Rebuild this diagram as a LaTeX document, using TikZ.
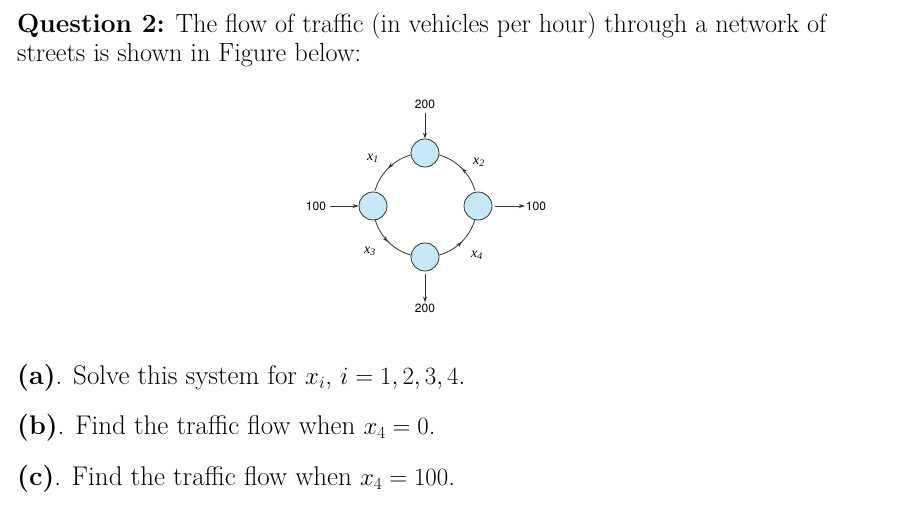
\documentclass[tikz,border=0pt]{standalone}
\usepackage{fontspec}
\newfontfamily\diafont{TeX Gyre Heros}
\newfontfamily\varfont{Liberation Serif}
\usetikzlibrary{decorations.markings,arrows.meta,calc}
\begin{document}
\begin{tikzpicture}[x=1pt,y=1pt,
  txt/.style={anchor=base west,inner sep=0pt,font=\fontsize{26.3}{30}\selectfont},
  txtb/.style={anchor=base west,inner sep=0pt,font=\fontsize{27}{30}\selectfont},
  junc/.style={circle,draw=black!80,line width=0.8pt,fill={rgb,255:red,200;green,232;blue,248},minimum size=28pt,inner sep=0pt},
  flow/.style={line width=0.8pt,draw=black!80,postaction={decorate},decoration={markings,mark=at position 0.5 with {\arrow{Stealth[length=6pt,width=4pt]}}}},
  ext/.style={line width=0.8pt,draw=black!80,-{Stealth[length=6pt,width=4pt]},shorten <=3pt},
  num/.style={font=\diafont\fontsize{12}{14}\selectfont,inner sep=1pt},
  var/.style={font=\varfont\itshape\fontsize{14}{16}\selectfont,inner sep=0pt}]
\useasboundingbox (0,0) rectangle (922,506);
\node[txt] (l1) at (17,473) {\textbf{Question 2:} The flow of traffic (in vehicles per hour) through a network of};
\node[txt] (l2) at (17,444) {streets is shown in Figure below:};
\node[txtb] (la) at (17,121) {\textbf{(a)}. Solve this system for $x_i$, $i=1,2,3,4$.};
\node[txtb] (lb) at (17,71) {\textbf{(b)}. Find the traffic flow when $x_4=0$.};
\node[txtb] (lc) at (17,20) {\textbf{(c)}. Find the traffic flow when $x_4=100$.};
\coordinate (C) at (425,301);
\node[junc] (T) at (425,353) {};
\node[junc] (L) at (373,300) {};
\node[junc] (R) at (478,300) {};
\node[junc] (B) at (425,249) {};
\draw[flow] ($(C)+(106:52)$) arc[start angle=106,end angle=164,radius=52];
\draw[flow] ($(C)+(16:52)$) arc[start angle=16,end angle=74,radius=52];
\draw[flow] ($(C)+(196:52)$) arc[start angle=196,end angle=254,radius=52];
\draw[flow] ($(C)+(286:52)$) arc[start angle=286,end angle=344,radius=52];
\node[num] (n200t) at (425,402) {200};
\node[num] (n200b) at (425,198) {200};
\node[num] (n100l) at (316,300) {100};
\node[num] (n100r) at (536,300) {100};
\draw[ext] (n200t.south) -- (T.north);
\draw[ext] (B.south) -- (n200b.north);
\draw[ext] (n100l.east) -- (L.west);
\draw[ext] (R.east) -- (n100r.west);
\node[var] (x1) at (373,348) {x\textsubscript{1}};
\node[var] (x2) at (479,344) {x\textsubscript{2}};
\node[var] (x3) at (370,255) {x\textsubscript{3}};
\node[var] (x4) at (477,251) {x\textsubscript{4}};
\end{tikzpicture}
\end{document}
